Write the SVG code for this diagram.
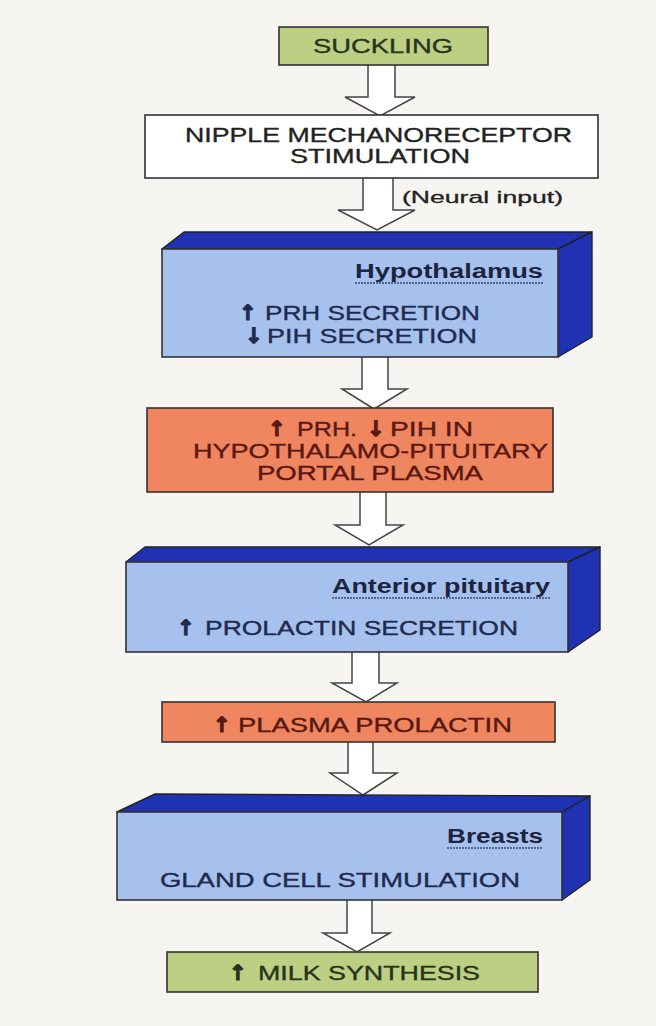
<svg xmlns="http://www.w3.org/2000/svg" width="656" height="1026" viewBox="0 0 656 1026">
<style>
.box{stroke:#333;stroke-width:1.6}
.green{fill:#bccf82}
.orange{fill:#f0865f}
.white{fill:#ffffff}
.front{fill:#a6c1ee;stroke:#333;stroke-width:1.6}
.dark{fill:#1f32b4;stroke:#222;stroke-width:1.4;stroke-linejoin:round}
.arrow{fill:#ffffff;stroke:#444;stroke-width:1.5;stroke-linejoin:miter}
text{font-family:"Liberation Sans",Arial,Helvetica,sans-serif}
.t{font-size:20px;stroke-width:0.35}
.tg{fill:#27331c;stroke:#27331c}
.to{fill:#5a1812;stroke:#5a1812}
.tb{fill:#1f2a4d;stroke:#1f2a4d}
.tw{fill:#222;stroke:#222}
.hd{font-weight:bold;font-size:20px;fill:#1c2440}
.ar{font-family:"DejaVu Sans",sans-serif;font-weight:bold;font-size:21px;stroke-width:1.2}
.ul{stroke:#3a4a70;stroke-width:1.4;stroke-dasharray:2 1}
</style>
<rect width="656" height="1026" fill="#f6f5f1"/>

<g id="connectors">
<path class="arrow" d="M368,65 L368,97 L345,97 L380,116 L415,97 L395,97 L395,65"/>
<path class="arrow" d="M363,178 L363,210 L338,210 L377,230 L415,210 L393,210 L393,178"/>
<path class="arrow" d="M362,357 L362,389 L342,389 L374,409 L407,389 L388,389 L388,357"/>
<path class="arrow" d="M360,492 L360,525 L335,525 L369,545 L403,525 L386,525 L386,492"/>
<path class="arrow" d="M352,652 L352,683 L332,683 L366,702 L397,683 L379,683 L379,652"/>
<path class="arrow" d="M348,742 L348,773 L330,773 L363,795 L397,773 L373,773 L373,742"/>
<path class="arrow" d="M347,900 L347,933 L323,933 L357,952 L390,933 L372,933 L372,900"/>
</g>

<g id="suckling">
<rect class="box green" x="279" y="27" width="209" height="38"/>
<text class="t tg" x="313" y="53" textLength="140" lengthAdjust="spacingAndGlyphs">SUCKLING</text>
</g>

<g id="nipple">
<rect class="box white" x="145" y="115" width="453" height="63"/>
<text class="t tw" x="185" y="142" textLength="387" lengthAdjust="spacingAndGlyphs">NIPPLE MECHANORECEPTOR</text>
<text class="t tw" x="290" y="163" textLength="180" lengthAdjust="spacingAndGlyphs">STIMULATION</text>
</g>

<g id="neural-label">
<text class="tw" x="402" y="203" font-size="17" stroke-width="0.3" textLength="161" lengthAdjust="spacingAndGlyphs">(Neural input)</text>
</g>

<g id="hypothalamus">
<polygon class="dark" points="162,249 184,232 592,232 558,249"/>
<polygon class="dark" points="558,249 592,232 592,337 558,357"/>
<rect class="front" x="162" y="249" width="396" height="108"/>
<text class="hd" x="355" y="278" textLength="188" lengthAdjust="spacingAndGlyphs">Hypothalamus</text>
<line class="ul" x1="355" y1="283" x2="543" y2="283"/>
<text class="ar tb" x="239" y="320">↑</text>
<text class="t tb" x="265" y="320" textLength="215" lengthAdjust="spacingAndGlyphs">PRH SECRETION</text>
<text class="ar tb" x="245" y="343">↓</text>
<text class="t tb" x="267" y="343" textLength="210" lengthAdjust="spacingAndGlyphs">PIH SECRETION</text>
</g>

<g id="portal-plasma">
<rect class="box orange" x="147" y="408" width="406" height="84"/>
<text class="ar to" x="268" y="436">↑</text>
<text class="t to" x="297" y="436" textLength="60" lengthAdjust="spacingAndGlyphs">PRH.</text>
<text class="ar to" x="367" y="436">↓</text>
<text class="t to" x="390" y="436" textLength="83" lengthAdjust="spacingAndGlyphs">PIH IN</text>
<text class="t to" x="193" y="458" textLength="355" lengthAdjust="spacingAndGlyphs">HYPOTHALAMO-PITUITARY</text>
<text class="t to" x="257" y="480" textLength="226" lengthAdjust="spacingAndGlyphs">PORTAL PLASMA</text>
</g>

<g id="anterior-pituitary">
<polygon class="dark" points="126,562 145,547 600,547 568,562"/>
<polygon class="dark" points="568,562 600,547 600,630 568,652"/>
<rect class="front" x="126" y="562" width="442" height="90"/>
<text class="hd" x="332" y="593" textLength="218" lengthAdjust="spacingAndGlyphs">Anterior pituitary</text>
<line class="ul" x1="332" y1="598" x2="550" y2="598"/>
<text class="ar tb" x="177" y="635">↑</text>
<text class="t tb" x="205" y="635" textLength="313" lengthAdjust="spacingAndGlyphs">PROLACTIN SECRETION</text>
</g>

<g id="plasma-prolactin">
<rect class="box orange" x="162" y="702" width="393" height="40"/>
<text class="ar to" x="213" y="732">↑</text>
<text class="t to" x="238" y="732" textLength="274" lengthAdjust="spacingAndGlyphs">PLASMA PROLACTIN</text>
</g>

<g id="breasts">
<polygon class="dark" points="117,812 155,794 590,796 562,812"/>
<polygon class="dark" points="562,812 590,796 590,880 562,900"/>
<rect class="front" x="117" y="812" width="445" height="88"/>
<text class="hd" x="447" y="843" textLength="96" lengthAdjust="spacingAndGlyphs">Breasts</text>
<line class="ul" x1="447" y1="848" x2="543" y2="848"/>
<text class="t tb" x="160" y="887" textLength="360" lengthAdjust="spacingAndGlyphs">GLAND CELL STIMULATION</text>
</g>

<g id="milk-synthesis">
<rect class="box green" x="167" y="952" width="371" height="40"/>
<text class="ar tg" x="229" y="980">↑</text>
<text class="t tg" x="258" y="980" textLength="222" lengthAdjust="spacingAndGlyphs">MILK SYNTHESIS</text>
</g>
</svg>
